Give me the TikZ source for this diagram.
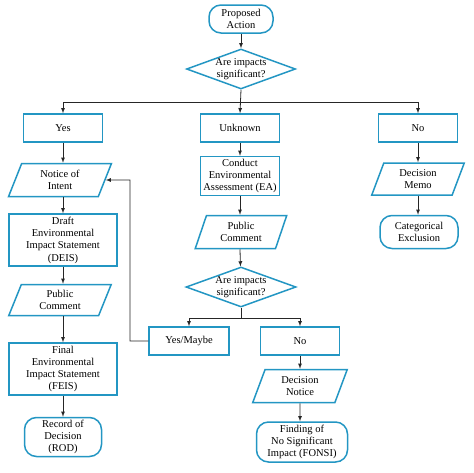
\documentclass[tikz,border=0pt]{standalone}
\usepackage{fontspec}
\setmainfont{Liberation Serif}
\usetikzlibrary{shapes.geometric,
	calc,
	arrows}
\definecolor{boxblue}{RGB}{35,150,195}

\begin{document}
\begin{tikzpicture}[x=1pt,y=-1pt,
	base/.style={draw=boxblue,line width=1.5pt,align=center,inner sep=1pt,
		font=\fontsize{10.5}{12.3}\selectfont},
	terminal/.style={base,rectangle,rounded corners=12pt},
	process/.style={base,rectangle},
	decision/.style={base,diamond,aspect=2.7,inner sep=-5pt},
	inout/.style={base,trapezium,trapezium left angle=72,trapezium right angle=108,
		trapezium stretches=true},
	flow/.style={draw=black!85,line width=0.8pt,-latex}]
	\useasboundingbox (0,0) rectangle (474,472);
	\node[terminal,minimum width=64pt,minimum height=28pt] (proposed) at (241,19) {Proposed\\Action};
	\node[decision,minimum width=109pt,minimum height=40pt] (ask1) at (241,69) {Are impacts\\significant?};
	\node[process,minimum width=79pt,minimum height=28pt] (yes) at (63,128) {Yes};
	\node[process,minimum width=79pt,minimum height=28pt] (unknown) at (240,128) {Unknown};
	\node[process,minimum width=79pt,minimum height=28pt] (no) at (418,128) {No};
	\node[inout,minimum width=103pt,minimum height=33pt] (notice) at (60,180) {Notice of\\Intent};
	\node[process,minimum width=108pt,minimum height=52pt] (deis) at (63,240) {Draft\\Environmental\\Impact Statement\\(DEIS)};
	\node[inout,minimum width=103pt,minimum height=31pt] (comment1) at (60,300) {Public\\Comment};
	\node[process,minimum width=108pt,minimum height=52pt] (feis) at (63,369) {Final\\Environmental\\Impact Statement\\(FEIS)};
	\node[terminal,minimum width=77pt,minimum height=39pt] (rod) at (63,437) {Record of\\Decision\\(ROD)};
	\node[process,minimum width=79pt,minimum height=39pt,inner sep=0pt] (ea) at (240,176) {Conduct\\Environmental\\Assessment (EA)};
	\node[inout,minimum width=92pt,minimum height=33pt] (comment2) at (241,232) {Public\\Comment};
	\node[decision,minimum width=110pt,minimum height=40pt] (ask2) at (241,287) {Are impacts\\significant?};
	\node[process,minimum width=80pt,minimum height=28pt] (maybe) at (189,341) {Yes/Maybe};
	\node[process,minimum width=79pt,minimum height=28pt] (no2) at (300,341) {No};
	\node[inout,minimum width=95pt,minimum height=33pt] (dnotice) at (300,386) {Decision\\Notice};
	\node[terminal,minimum width=91pt,minimum height=40pt] (fonsi) at (302,442) {Finding of\\No Significant\\Impact (FONSI)};
	\node[inout,minimum width=93pt,minimum height=32pt] (memo) at (418,179) {Decision\\Memo};
	\node[terminal,minimum width=78pt,minimum height=33pt] (catex) at (419,232) {Categorical\\Exclusion};
	\coordinate (split1) at (241,102);
	\coordinate (split2) at (241,318);
	\coordinate (loop) at (130,180);
	\draw[flow] (proposed) -- (ask1);
	\draw[flow] (ask1.south) -- (unknown.north);
	\draw[flow] (split1) -| (yes.north);
	\draw[flow] (split1) -| (no.north);
	\draw[flow] (yes) -- (yes.south |- notice.north);
	\draw[flow] (yes.south |- notice.south) -- (deis);
	\draw[flow] (deis) -- (deis.south |- comment1.north);
	\draw[flow] (deis.south |- comment1.south) -- (feis);
	\draw[flow] (feis) -- (rod);
	\draw[flow] (unknown) -- (ea);
	\draw[flow] (ea) -- (ea.south |- comment2.north);
	\draw[flow] (ea.south |- comment2.south) -- (ask2);
	\draw[flow] (ask2.south) -- (split2) -| (maybe.north);
	\draw[flow] (split2) -| (no2.north);
	\draw[flow] (maybe.west) -| (loop) -- (notice.east);
	\draw[flow] (no2) -- (dnotice);
	\draw[flow] (dnotice) -- (fonsi.north -| dnotice.south);
	\draw[flow] (no) -- (memo);
	\draw[flow] (memo.south) -- (memo.south |- catex.north);
\end{tikzpicture}
\end{document}
